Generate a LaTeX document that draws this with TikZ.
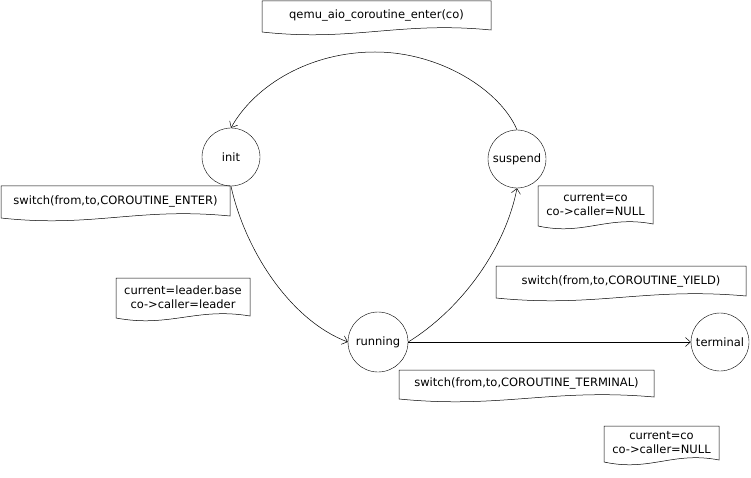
\documentclass[tikz,border=0pt]{standalone}
\usepackage{fontspec}
\setmainfont{DejaVu Sans}
\usetikzlibrary{arrows.meta}
\begin{document}
\begin{tikzpicture}[x=1pt,y=-1pt,
  st/.style={circle,draw,minimum size=58pt,inner sep=0pt,font=\fontsize{11.5}{13}\selectfont},
  lbl/.style={font=\fontsize{11.5}{14}\selectfont,align=center,inner sep=0pt},
  arr/.style={-{Straight Barb[length=5pt,width=9pt]},line width=0.5pt}]
\useasboundingbox (0,0) rectangle (751,478);
\newcommand{\docbox}[6]{%
  \draw[line width=0.5pt] (#2,#3)--(#4,#3)--(#4,#5)
    .. controls ({#4-0.4*(#4-#2)},{#5-9}) and ({#2+0.4*(#4-#2)},{#5+12}) .. ({#2},{#5+2}) -- cycle;
  \node[lbl] (#1) at ({(#2+#4)/2},{(#3+#5)/2}) {#6};}
\node[st] (init) at (231,157) {init};
\node[st] (suspend) at (517,159) {suspend};
\node[st,minimum size=60pt] (running) at (378,342) {running};
\node[st] (terminal) at (720,342) {terminal};
\docbox{qemu}{262}{1}{491}{30}{qemu\_aio\_coroutine\_enter(co)}
\docbox{sw1}{1}{186}{230}{216}{switch(from,to,COROUTINE\_ENTER)}
\docbox{c1}{538}{186}{653}{224}{current=co\\co->caller=NULL}
\docbox{c2}{116}{278}{250}{316}{current=leader.base\\co->caller=leader}
\docbox{sw2}{496}{266}{746}{296}{switch(from,to,COROUTINE\_YIELD)}
\docbox{sw3}{399}{370}{654}{397}{switch(from,to,COROUTINE\_TERMINAL)}
\docbox{c3}{604}{426}{719}{460}{current=co\\co->caller=NULL}
\draw[arr] (suspend.north) .. controls (500,90) and (440,52) .. (375,52)
  .. controls (310,52) and (255,85) .. (init.north);
\draw[arr] (init.south) .. controls (245,250) and (290,320) .. (running.west);
\draw[arr] (running.east) .. controls (460,310) and (505,250) .. (suspend.south);
\draw[arr] (running.east) -- (terminal.west);
\end{tikzpicture}
\end{document}
